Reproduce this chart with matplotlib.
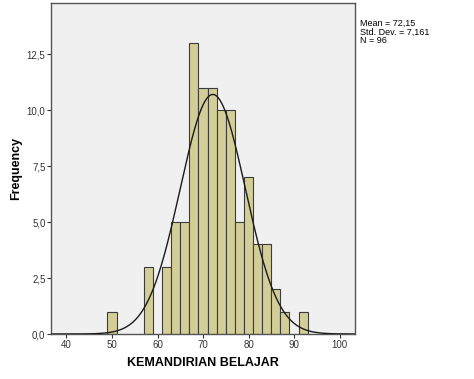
import numpy as np
import matplotlib.pyplot as plt

plt.rcParams['font.family'] = ['Liberation Sans', 'DejaVu Sans']

# Histogram bins (width 2) and counts
bin_left = [49, 57, 61, 63, 65, 67, 69, 71, 73, 75, 77, 79, 81, 83, 85, 87, 91]
counts = [1, 3, 3, 5, 5, 13, 11, 11, 10, 10, 5, 7, 4, 4, 2, 1, 1]
bin_width = 2
mean = 72.15
sd = 7.161
n = 96

fig = plt.figure(figsize=(4.74, 3.79), dpi=100)
ax = fig.add_axes([0.1076, 0.1187, 0.6414, 0.8723])
ax.set_facecolor('#F0F0F0')

ax.bar(bin_left, counts, width=bin_width, align='edge',
       color='#D3CE97', edgecolor='#3C3C3C', linewidth=0.8, zorder=2)

# Normal curve
x = np.linspace(36.6, 103.4, 400)
y = n * bin_width / (sd * np.sqrt(2 * np.pi)) * np.exp(-0.5 * ((x - mean) / sd) ** 2)
ax.plot(x, y, color='#1A1A1A', linewidth=1.0, zorder=3)

ax.set_xlim(36.6, 103.4)
ax.set_ylim(0, 14.76)
ax.set_xticks([40, 50, 60, 70, 80, 90, 100])
yt = [0, 2.5, 5, 7.5, 10, 12.5]
ax.set_yticks(yt)
ax.set_yticklabels([f"{v:.1f}".replace('.', ',') for v in yt])
ax.tick_params(labelsize=7, length=3, width=0.8, colors='#333333', pad=1)

for s in ax.spines.values():
    s.set_color('#555555')
    s.set_linewidth(1.0)

ax.set_xlabel('KEMANDIRIAN BELAJAR', fontsize=9, fontweight='bold')
ax.xaxis.set_label_coords(0.5, -0.07)
ax.set_ylabel('Frequency', fontsize=9, fontweight='bold')
ax.yaxis.set_label_coords(-0.095, 0.5)

fig.text(360 / 474, 1 - 19 / 379, 'Mean = 72,15\nStd. Dev. = 7,161\nN = 96',
         fontsize=6.5, va='top', ha='left', linespacing=0.95)

plt.savefig('out.png', dpi=100)
